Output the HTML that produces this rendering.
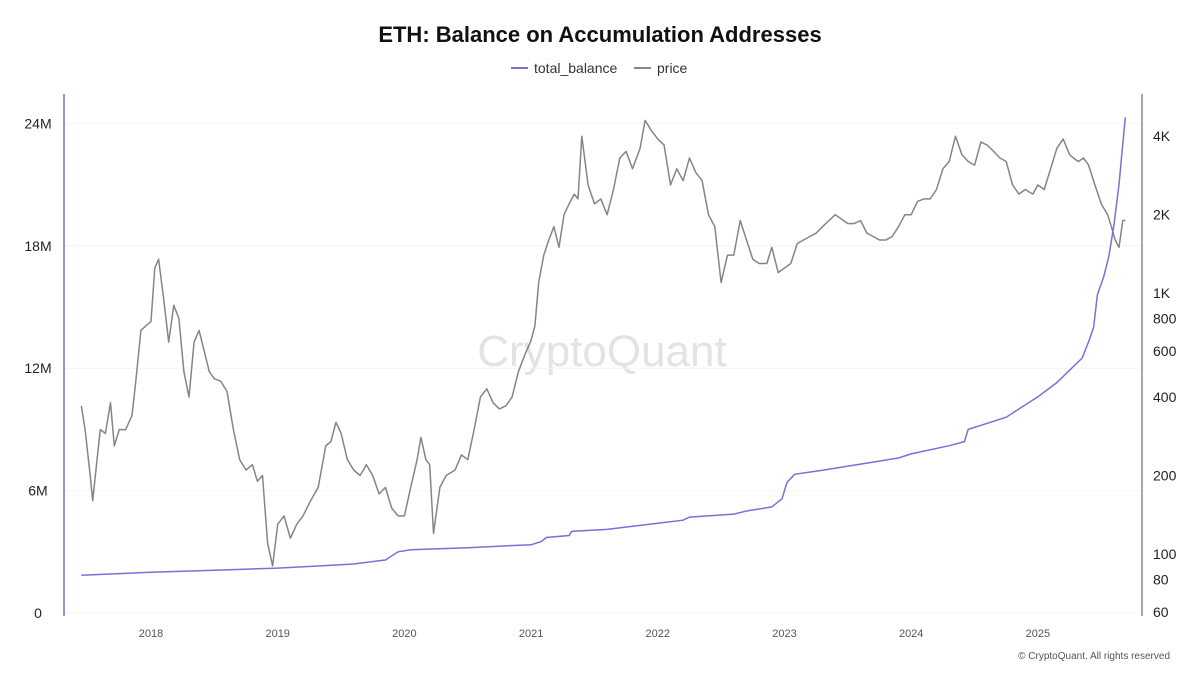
<!DOCTYPE html>
<html><head><meta charset="utf-8">
<style>
body{margin:0;background:#fff;font-family:"Liberation Sans",sans-serif;}
#wrap{position:relative;width:1200px;height:675px;overflow:hidden;}
</style></head>
<body>
<div id="wrap">
<svg id="chart" width="1200" height="675" xmlns="http://www.w3.org/2000/svg">
<text x="600" y="42" text-anchor="middle" font-size="22" font-weight="bold" fill="#111">ETH: Balance on Accumulation Addresses</text>
<g>
<g><line x1="511" y1="68" x2="528" y2="68" stroke="#7b6fd6" stroke-width="2"/><text x="534" y="73" font-size="14" fill="#333">total_balance</text></g>
<g><line x1="634" y1="68" x2="651" y2="68" stroke="#888" stroke-width="2"/><text x="657" y="73" font-size="14" fill="#333">price</text></g>
</g>
<text x="602" y="366" text-anchor="middle" font-size="44" fill="#e3e3e6">CryptoQuant</text>
<line x1="64" y1="94" x2="64" y2="616" stroke="#7b6fd6" stroke-width="1.5"/>
<line x1="1142" y1="94" x2="1142" y2="616" stroke="#888" stroke-width="1.5"/>
<g id="leftTicks"></g>
<g id="rightTicks"></g>
<g id="xTicks"></g>
<path id="pricePath" fill="none" stroke="#858585" stroke-width="1.5" stroke-linejoin="round"/>
<path id="balPath" fill="none" stroke="#7b6fd6" stroke-width="1.5"/>
<text x="1170" y="659" text-anchor="end" font-size="10" fill="#555">© CryptoQuant. All rights reserved</text>
</svg>
</div>
<script>
const leftTickLabels=["0","6M","12M","18M","24M"];
const leftTickValues=[0,6,12,18,24];
const rightTickValues=[60,80,100,200,400,600,800,1000,2000,4000];
const rightTickLabels=["60","80","100","200","400","600","800","1K","2K","4K"];
const xTickYears=[2018,2019,2020,2021,2022,2023,2024,2025];
const priceDates=[2017.45,2017.48,2017.52,2017.54,2017.57,2017.6,2017.64,2017.68,2017.71,2017.75,2017.8,2017.85,2017.88,2017.92,2017.96,2018.0,2018.03,2018.06,2018.1,2018.14,2018.18,2018.22,2018.26,2018.3,2018.34,2018.38,2018.42,2018.46,2018.5,2018.55,2018.6,2018.65,2018.7,2018.75,2018.8,2018.84,2018.88,2018.92,2018.96,2019.0,2019.05,2019.1,2019.15,2019.2,2019.26,2019.32,2019.38,2019.42,2019.46,2019.5,2019.55,2019.6,2019.65,2019.7,2019.75,2019.8,2019.85,2019.9,2019.95,2020.0,2020.05,2020.1,2020.13,2020.17,2020.2,2020.23,2020.28,2020.33,2020.4,2020.45,2020.5,2020.55,2020.6,2020.65,2020.7,2020.75,2020.8,2020.85,2020.9,2020.95,2021.0,2021.03,2021.06,2021.1,2021.14,2021.18,2021.22,2021.26,2021.3,2021.34,2021.37,2021.4,2021.45,2021.5,2021.55,2021.6,2021.65,2021.7,2021.75,2021.8,2021.86,2021.9,2021.95,2022.0,2022.05,2022.1,2022.15,2022.2,2022.25,2022.3,2022.35,2022.4,2022.45,2022.5,2022.55,2022.6,2022.65,2022.7,2022.75,2022.8,2022.86,2022.9,2022.95,2023.0,2023.05,2023.1,2023.15,2023.2,2023.25,2023.3,2023.4,2023.5,2023.55,2023.6,2023.65,2023.7,2023.75,2023.8,2023.85,2023.9,2023.95,2024.0,2024.05,2024.1,2024.15,2024.2,2024.25,2024.3,2024.35,2024.4,2024.45,2024.5,2024.55,2024.6,2024.65,2024.7,2024.75,2024.8,2024.85,2024.9,2024.96,2025.0,2025.05,2025.1,2025.15,2025.2,2025.25,2025.28,2025.32,2025.36,2025.4,2025.45,2025.5,2025.55,2025.58,2025.61,2025.64,2025.67,2025.69];
const priceValues=[370,300,200,160,220,300,290,380,260,300,300,340,460,720,750,780,1250,1350,950,650,900,800,500,400,650,720,600,500,470,460,420,300,230,210,220,190,200,110,90,130,140,115,130,140,160,180,260,270,320,290,230,210,200,220,200,170,180,150,140,140,180,230,280,230,220,120,180,200,210,240,230,300,400,430,380,360,370,400,500,580,660,750,1100,1400,1600,1800,1500,2000,2200,2400,2300,4000,2600,2200,2300,2000,2500,3300,3500,3000,3600,4600,4200,3900,3700,2600,3000,2700,3300,2900,2700,2000,1800,1100,1400,1400,1900,1600,1350,1300,1300,1500,1200,1250,1300,1550,1600,1650,1700,1800,2000,1850,1850,1900,1700,1650,1600,1600,1650,1800,2000,2000,2250,2300,2300,2500,3000,3200,4000,3400,3200,3100,3800,3700,3500,3300,3200,2600,2400,2500,2400,2600,2500,3000,3600,3900,3400,3300,3200,3300,3100,2600,2200,2000,1800,1600,1500,1900,1900,2600,2500,2600,2600,2500,3600,3700,3300,4400,4700];
const balDates=[2017.45,2018.0,2018.5,2019.0,2019.3,2019.6,2019.85,2019.95,2020.05,2020.5,2021.0,2021.08,2021.12,2021.3,2021.32,2021.6,2022.0,2022.2,2022.25,2022.6,2022.7,2022.9,2022.98,2023.02,2023.08,2023.3,2023.6,2023.9,2024.0,2024.3,2024.42,2024.45,2024.6,2024.75,2024.85,2025.0,2025.15,2025.25,2025.35,2025.4,2025.44,2025.47,2025.52,2025.56,2025.6,2025.64,2025.67,2025.69];
const balValues=[1.85,2.0,2.1,2.2,2.3,2.4,2.6,3.0,3.1,3.2,3.35,3.5,3.7,3.8,4.0,4.1,4.4,4.55,4.7,4.85,5.0,5.2,5.6,6.4,6.8,7.0,7.3,7.6,7.8,8.2,8.4,9.0,9.3,9.6,10.0,10.6,11.3,11.9,12.5,13.3,14.0,15.6,16.5,17.5,19.0,21.0,23.0,24.3];

const X0=151,XW=126.7;
const xs=t=>X0+(t-2018)*XW;
const yL=v=>613-v*20.4;
const yR=p=>554-Math.log2(p/100)*78.5;
const NS="http://www.w3.org/2000/svg";
function mk(tag,attrs,parent,txt){const e=document.createElementNS(NS,tag);for(const k in attrs)e.setAttribute(k,attrs[k]);if(txt!==undefined)e.textContent=txt;parent.appendChild(e);return e;}
const lt=document.getElementById('leftTicks'),rt=document.getElementById('rightTicks'),xt=document.getElementById('xTicks');
leftTickValues.forEach((v,i)=>{
  const g=mk('line',{x1:65,x2:1141,y1:yL(v),y2:yL(v),stroke:'#f4f4f6','stroke-width':1},lt);
  
  
  const t=mk('text',{x:38,y:yL(v)+5,'text-anchor':'middle','font-size':14,fill:'#222'},lt,leftTickLabels[i]);
  
  
});
rightTickValues.forEach((v,i)=>{
  const t=mk('text',{x:1153,y:yR(v)+5,'font-size':14,fill:'#222'},rt,rightTickLabels[i]);
  
  
});
xTickYears.forEach(y=>{
  const t=mk('text',{x:xs(y),y:637,'text-anchor':'middle','font-size':11,fill:'#555'},xt,String(y));
  
  
});
document.getElementById('pricePath').setAttribute('d',priceDates.map((t,i)=>(i?'L':'M')+xs(t).toFixed(1)+','+yR(priceValues[i]).toFixed(1)).join(''));
document.getElementById('balPath').setAttribute('d',balDates.map((t,i)=>(i?'L':'M')+xs(t).toFixed(1)+','+yL(balValues[i]).toFixed(1)).join(''));
</script>
</body></html>
